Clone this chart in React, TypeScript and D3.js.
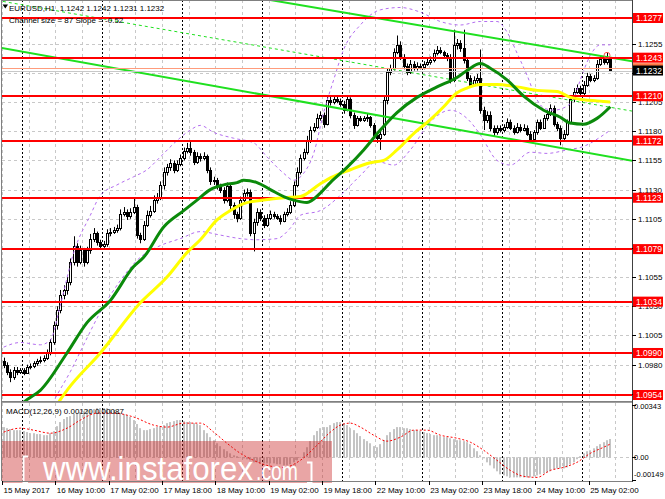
import React, { useEffect, useRef } from "react";
import * as d3 from "d3";

const W = 665;
const H = 499;

// ---------- price data (H1 bars, 15 May 18:00 .. 25 May 08:00) ----------
const firstOpen = 1.0983;
const closes = [
  1.0980, 1.0974, 1.0969, 1.0975, 1.0974, 1.0975, 1.0973, 1.0978, 1.0979, 1.0981,
  1.0983, 1.0984, 1.0986, 1.0990, 1.0999, 1.1014, 1.1027, 1.1040, 1.1044, 1.1051,
  1.1068, 1.1082, 1.1068, 1.1078, 1.1068, 1.1078, 1.1088, 1.1093, 1.1085, 1.1082,
  1.1083, 1.1093, 1.1094, 1.1095, 1.1097, 1.1109, 1.1111, 1.1107, 1.1111, 1.1115,
  1.1091, 1.1088, 1.1100, 1.1108, 1.1112, 1.1121, 1.1124, 1.1134, 1.1145, 1.1149,
  1.1153, 1.1147, 1.1152, 1.1157, 1.1163, 1.1166, 1.1162, 1.1154, 1.1159, 1.1157,
  1.1159, 1.1147, 1.1137, 1.1138, 1.1133, 1.1130, 1.1121, 1.1133, 1.1117, 1.1109,
  1.1106, 1.1121, 1.1127, 1.1128, 1.1093, 1.1102, 1.1111, 1.1106, 1.1100, 1.1106,
  1.1109, 1.1107, 1.1106, 1.1103, 1.1109, 1.1111, 1.1117, 1.1134, 1.1145, 1.1157,
  1.1162, 1.1172, 1.1181, 1.1184, 1.1191, 1.1194, 1.1186, 1.1207, 1.1205, 1.1208,
  1.1206, 1.1203, 1.1198, 1.1208, 1.1194, 1.1185, 1.1191, 1.1190, 1.1191, 1.1192,
  1.1185, 1.1177, 1.1174, 1.1178, 1.1207, 1.1231, 1.1234, 1.1248, 1.1254, 1.1244,
  1.1236, 1.1231, 1.1238, 1.1234, 1.1236, 1.1235, 1.1238, 1.1239, 1.1241, 1.1247,
  1.1250, 1.1248, 1.1245, 1.1243, 1.1224, 1.1254, 1.1256, 1.1251, 1.1241, 1.1226,
  1.1220, 1.1224, 1.1226, 1.1198, 1.1190, 1.1194, 1.1183, 1.1179, 1.1183, 1.1181,
  1.1184, 1.1188, 1.1183, 1.1179, 1.1184, 1.1181, 1.1183, 1.1178, 1.1173, 1.1179,
  1.1188, 1.1183, 1.1191, 1.1195, 1.1200, 1.1186, 1.1183, 1.1174, 1.1178, 1.1188,
  1.1208, 1.1214, 1.1217, 1.1213, 1.1220, 1.1227, 1.1224, 1.1226, 1.1238, 1.1242,
  1.1239, 1.1242, 1.1232,
];
const highs = [
  1.0986, 1.0982, 1.0976, 1.0978, 1.0978, 1.0977, 1.0977, 1.0980, 1.0981, 1.0983,
  1.0985, 1.0987, 1.0988, 1.0993, 1.1002, 1.1017, 1.1030, 1.1044, 1.1048, 1.1055,
  1.1071, 1.1090, 1.1084, 1.1082, 1.1080, 1.1081, 1.1092, 1.1097, 1.1094, 1.1087,
  1.1086, 1.1096, 1.1097, 1.1098, 1.1100, 1.1113, 1.1115, 1.1113, 1.1114, 1.1122,
  1.1117, 1.1093, 1.1103, 1.1112, 1.1116, 1.1125, 1.1127, 1.1137, 1.1149, 1.1152,
  1.1156, 1.1155, 1.1155, 1.1160, 1.1166, 1.1170, 1.1171, 1.1164, 1.1162, 1.1161,
  1.1162, 1.1160, 1.1149, 1.1141, 1.1140, 1.1135, 1.1132, 1.1136, 1.1135, 1.1119,
  1.1111, 1.1124, 1.1130, 1.1131, 1.1130, 1.1105, 1.1114, 1.1113, 1.1108, 1.1109,
  1.1112, 1.1111, 1.1109, 1.1108, 1.1111, 1.1114, 1.1120, 1.1137, 1.1149, 1.1160,
  1.1165, 1.1176, 1.1184, 1.1187, 1.1195, 1.1197, 1.1196, 1.1210, 1.1210, 1.1211,
  1.1210, 1.1208, 1.1206, 1.1211, 1.1209, 1.1196, 1.1193, 1.1193, 1.1193, 1.1195,
  1.1193, 1.1187, 1.1179, 1.1181, 1.1210, 1.1234, 1.1237, 1.1251, 1.1262, 1.1257,
  1.1246, 1.1238, 1.1241, 1.1240, 1.1239, 1.1238, 1.1240, 1.1242, 1.1244, 1.1250,
  1.1253, 1.1252, 1.1249, 1.1247, 1.1246, 1.1267, 1.1259, 1.1258, 1.1267, 1.1243,
  1.1228, 1.1227, 1.1229, 1.1250, 1.1201, 1.1197, 1.1197, 1.1185, 1.1185, 1.1185,
  1.1186, 1.1191, 1.1190, 1.1185, 1.1187, 1.1186, 1.1186, 1.1185, 1.1180, 1.1181,
  1.1190, 1.1190, 1.1194, 1.1198, 1.1203, 1.1202, 1.1188, 1.1185, 1.1181, 1.1190,
  1.1211, 1.1217, 1.1220, 1.1219, 1.1223, 1.1230, 1.1229, 1.1228, 1.1241, 1.1245,
  1.1244, 1.1247, 1.1242,
];
const lows = [
  1.0977, 1.0971, 1.0965, 1.0967, 1.0971, 1.0972, 1.0971, 1.0972, 1.0976, 1.0977,
  1.0979, 1.0981, 1.0982, 1.0984, 1.0988, 1.0997, 1.1010, 1.1024, 1.1036, 1.1040,
  1.1048, 1.1065, 1.1064, 1.1066, 1.1064, 1.1066, 1.1075, 1.1085, 1.1082, 1.1079,
  1.1080, 1.1081, 1.1090, 1.1092, 1.1093, 1.1095, 1.1107, 1.1104, 1.1105, 1.1109,
  1.1088, 1.1084, 1.1086, 1.1098, 1.1106, 1.1110, 1.1118, 1.1121, 1.1130, 1.1142,
  1.1146, 1.1144, 1.1145, 1.1150, 1.1155, 1.1161, 1.1159, 1.1151, 1.1152, 1.1154,
  1.1155, 1.1144, 1.1134, 1.1134, 1.1130, 1.1127, 1.1118, 1.1119, 1.1113, 1.1105,
  1.1102, 1.1104, 1.1119, 1.1124, 1.1090, 1.1077, 1.1099, 1.1103, 1.1097, 1.1098,
  1.1104, 1.1105, 1.1104, 1.1100, 1.1102, 1.1107, 1.1109, 1.1115, 1.1132, 1.1143,
  1.1155, 1.1160, 1.1170, 1.1179, 1.1182, 1.1189, 1.1183, 1.1185, 1.1202, 1.1203,
  1.1204, 1.1201, 1.1195, 1.1197, 1.1191, 1.1182, 1.1184, 1.1188, 1.1188, 1.1188,
  1.1183, 1.1174, 1.1170, 1.1164, 1.1176, 1.1203, 1.1228, 1.1232, 1.1246, 1.1241,
  1.1233, 1.1228, 1.1229, 1.1232, 1.1232, 1.1233, 1.1233, 1.1236, 1.1237, 1.1239,
  1.1245, 1.1246, 1.1243, 1.1240, 1.1221, 1.1222, 1.1250, 1.1248, 1.1238, 1.1223,
  1.1217, 1.1218, 1.1221, 1.1195, 1.1181, 1.1187, 1.1180, 1.1176, 1.1177, 1.1179,
  1.1179, 1.1182, 1.1181, 1.1177, 1.1178, 1.1179, 1.1180, 1.1176, 1.1170, 1.1171,
  1.1177, 1.1181, 1.1182, 1.1189, 1.1193, 1.1184, 1.1180, 1.1168, 1.1172, 1.1176,
  1.1186, 1.1205, 1.1212, 1.1211, 1.1211, 1.1218, 1.1222, 1.1222, 1.1224, 1.1236,
  1.1237, 1.1237, 1.1231,
];

// ---------- MACD(12,26,9) ----------
const macdHist = [
  0.00198, 0.00191, 0.00185, 0.00178, 0.00178, 0.00178, 0.00172, 0.00165, 0.00158, 0.00158,
  0.00152, 0.00152, 0.00145, 0.00145, 0.00158, 0.00172, 0.00204, 0.00231, 0.00251, 0.00264,
  0.00270, 0.00284, 0.00290, 0.00297, 0.00303, 0.00310, 0.00310, 0.00317, 0.00323, 0.00323,
  0.00323, 0.00323, 0.00317, 0.00310, 0.00297, 0.00290, 0.00284, 0.00277, 0.00264, 0.00244,
  0.00218, 0.00191, 0.00178, 0.00178, 0.00185, 0.00191, 0.00198, 0.00204, 0.00211, 0.00224,
  0.00231, 0.00237, 0.00244, 0.00244, 0.00237, 0.00231, 0.00231, 0.00224, 0.00218, 0.00211,
  0.00178, 0.00158, 0.00132, 0.00112, 0.00092, 0.00073, 0.00053, 0.00040, 0.00026, 0.00013,
  0.00007, 0.00002, -0.00007, -0.00013, -0.00020, -0.00033, -0.00033, -0.00040, -0.00040, -0.00040,
  -0.00040, -0.00040, -0.00046, -0.00046, -0.00053, -0.00053, -0.00046, -0.00033, -0.00020, 0.00002,
  0.00033, 0.00066, 0.00106, 0.00145, 0.00172, 0.00191, 0.00198, 0.00198, 0.00211, 0.00224,
  0.00231, 0.00231, 0.00224, 0.00211, 0.00191, 0.00178, 0.00158, 0.00139, 0.00119, 0.00106,
  0.00092, 0.00073, 0.00066, 0.00086, 0.00112, 0.00145, 0.00165, 0.00185, 0.00198, 0.00198,
  0.00191, 0.00191, 0.00185, 0.00178, 0.00178, 0.00172, 0.00165, 0.00158, 0.00152, 0.00145,
  0.00145, 0.00139, 0.00132, 0.00132, 0.00125, 0.00119, 0.00112, 0.00112, 0.00106, 0.00099,
  0.00086, 0.00059, 0.00040, 0.00013, -0.00007, -0.00033, -0.00053, -0.00073, -0.00092, -0.00112,
  -0.00119, -0.00125, -0.00132, -0.00132, -0.00132, -0.00132, -0.00132, -0.00132, -0.00132, -0.00125,
  -0.00119, -0.00112, -0.00106, -0.00099, -0.00092, -0.00079, -0.00073, -0.00073, -0.00073, -0.00066,
  -0.00046, -0.00033, -0.00013, 0.00007, 0.00026, 0.00040, 0.00046, 0.00059, 0.00073, 0.00086,
  0.00099, 0.00112, 0.00120,
];
const signalIdx = [0, 5, 9, 14, 19, 23, 28, 33, 39, 45, 49, 54, 59, 63, 67, 71, 75, 79, 84, 89, 94, 98, 101, 104, 107, 111, 115, 119, 123, 127, 131, 136, 140, 144, 148, 152, 156, 160, 164, 168, 172, 176, 180, 182];
const signalVals = [0.00165, 0.00191, 0.00178, 0.00158, 0.00191, 0.00244, 0.00290, 0.00290, 0.00264, 0.00211, 0.00198, 0.00224, 0.00224, 0.00165, 0.00092, 0.00026, -0.00020, -0.00053, -0.00066, -0.00020, 0.00079, 0.00165, 0.00211, 0.00224, 0.00198, 0.00145, 0.00106, 0.00132, 0.00178, 0.00178, 0.00145, 0.00125, 0.00099, 0.00046, -0.00020, -0.00086, -0.00125, -0.00132, -0.00086, -0.00066, -0.00033, 0.00026, 0.00066, 0.00087];

// ---------- moving averages (read at bar indices) ----------
const greenIdx = [3, 7, 11, 19, 25, 32, 39, 42, 48, 54, 58, 62, 66, 70, 72, 76, 80, 84, 87, 91, 95, 98, 103, 108, 113, 118, 124, 130, 136, 139, 143, 146, 151, 156, 162, 167, 170, 174, 178, 182];
const greenVals = [1.0941, 1.0950, 1.0958, 1.0990, 1.1016, 1.1035, 1.1064, 1.1072, 1.1098, 1.1112, 1.1121, 1.1130, 1.1134, 1.1136, 1.1138, 1.1136, 1.1130, 1.1124, 1.1121, 1.1119, 1.1127, 1.1136, 1.1149, 1.1164, 1.1181, 1.1196, 1.1209, 1.1218, 1.1226, 1.1232, 1.1238, 1.1234, 1.1224, 1.1210, 1.1198, 1.1192, 1.1187, 1.1186, 1.1191, 1.1201];
const yellowIdx = [14, 17, 19, 29, 41, 49, 55, 59, 64, 68, 72, 78, 84, 89, 95, 98, 104, 110, 114, 118, 123, 128, 132, 136, 139, 143, 148, 154, 160, 166, 170, 174, 178, 182];
const yellowVals = [1.0935, 1.0950, 1.0958, 1.0990, 1.1033, 1.1055, 1.1076, 1.1087, 1.1104, 1.1112, 1.1118, 1.1121, 1.1123, 1.1124, 1.1135, 1.1140, 1.1147, 1.1153, 1.1155, 1.1164, 1.1178, 1.1190, 1.1201, 1.1213, 1.1217, 1.1220, 1.1220, 1.1218, 1.1215, 1.1214, 1.1209, 1.1207, 1.1206, 1.1205];

// ---------- bands (violet dashed) ----------
const upperIdx = [0, 5, 11, 14, 17, 21, 26, 29, 34, 39, 43, 47, 52, 56, 59, 63, 69, 75, 79, 84, 87, 90, 93, 96, 99, 102, 107, 113, 119, 125, 131, 137, 143, 148, 151, 154, 157, 160, 162, 165, 168, 171, 173, 176, 179, 182];
const upperVals = [1.0995, 1.0999, 1.0997, 1.1001, 1.1031, 1.1076, 1.1108, 1.1125, 1.1134, 1.1141, 1.1147, 1.1158, 1.1172, 1.1181, 1.1185, 1.1179, 1.1174, 1.1170, 1.1158, 1.1144, 1.1138, 1.1144, 1.1161, 1.1196, 1.1224, 1.1250, 1.1271, 1.1284, 1.1286, 1.1282, 1.1274, 1.1271, 1.1274, 1.1274, 1.1265, 1.1247, 1.1228, 1.1207, 1.1200, 1.1198, 1.1200, 1.1208, 1.1224, 1.1245, 1.1254, 1.1254];
const lowerIdx = [12, 16, 20, 24, 29, 35, 41, 47, 53, 59, 65, 71, 76, 82, 86, 89, 95, 101, 107, 112, 117, 122, 128, 134, 139, 143, 148, 152, 158, 163, 169, 174, 179, 182];
const lowerVals = [1.0933, 1.0954, 1.0974, 1.0997, 1.1025, 1.1052, 1.1072, 1.1082, 1.1088, 1.1094, 1.1091, 1.1088, 1.1087, 1.1088, 1.1097, 1.1108, 1.1112, 1.1125, 1.1142, 1.1154, 1.1151, 1.1164, 1.1188, 1.1198, 1.1191, 1.1177, 1.1155, 1.1151, 1.1162, 1.1161, 1.1164, 1.1167, 1.1175, 1.1181];

// ---------- regression channel (anchor bar index / price) ----------
const chanLowerIdx = [0, 182];
const chanLowerVals = [1.1251, 1.1158];
const chanUpperIdx = [118, 182];
const chanUpperVals = [1.1274, 1.1243];

// ---------- levels & axes ----------
const levels = [1.1277, 1.1243, 1.1210, 1.1172, 1.1123, 1.1079, 1.1034, 1.0990, 1.0954];
const secondaryLevel = 1.1234;
const bidPrice = 1.1232;
const priceTicks = ["1.0955", "1.0980", "1.1005", "1.1030", "1.1055", "1.1080", "1.1105", "1.1130", "1.1155", "1.1180", "1.1205", "1.1230", "1.1255"];
const macdTicks = ["0.00343", "0.00", "-0.00149"];
const macdTickVals = [0.00343, 0, -0.00149];
const xLabels = ["15 May 2017", "16 May 10:00", "17 May 02:00", "17 May 18:00", "18 May 10:00", "19 May 02:00", "19 May 18:00", "22 May 10:00", "23 May 02:00", "23 May 18:00", "24 May 10:00", "25 May 02:00"];
const xLabelIdx = [0, 16, 32, 48, 64, 80, 96, 112, 128, 144, 160, 176];
const daySepIdx = [6, 30, 54, 78, 102, 126, 150, 174];
const alertIdx = 181;
const alertPrice = 1.1245;

export default function App() {
  const ref = useRef<SVGSVGElement | null>(null);

  useEffect(() => {
    const node = ref.current;
    if (!node) return;
    const svg = d3.select(node);
    svg.selectAll("*").remove();

    const FONT = "'Liberation Sans', Arial, sans-serif";
    const L = 2, R = 632, MAIN_B = 401, MACD_T = 403, MACD_B = 481;
    const x = d3.scaleLinear().domain([0, 189]).range([L, R]);
    const cx = (i: number) => x(i + 0.5);
    const y = d3.scaleLinear().domain([1.0954, 1.1277]).range([395, 18]);
    const ym = d3.scaleLinear().domain([-0.00149, 0.00343]).range([480, 405]);
    const snap = (v: number) => Math.round(v) + 0.5;

    svg.append("rect").attr("width", W).attr("height", H).attr("fill", "#ffffff");

    const defs = svg.append("defs");
    defs.append("clipPath").attr("id", "clipMain").append("rect")
      .attr("x", L).attr("y", 0).attr("width", R - L).attr("height", MAIN_B);
    defs.append("clipPath").attr("id", "clipMacd").append("rect")
      .attr("x", L).attr("y", MACD_T).attr("width", R - L).attr("height", MACD_B - MACD_T);

    // grid
    const grid = svg.append("g").attr("stroke", "#c8c8c8").attr("stroke-width", 1).attr("stroke-dasharray", "3,3");
    priceTicks.forEach((t) => {
      const yy = snap(y(+t));
      grid.append("line").attr("x1", L).attr("x2", R).attr("y1", yy).attr("y2", yy);
    });
    d3.range(0, 189, 8).forEach((i) => {
      const xx = snap(x(i));
      grid.append("line").attr("x1", xx).attr("x2", xx).attr("y1", 0).attr("y2", MAIN_B);
      grid.append("line").attr("x1", xx).attr("x2", xx).attr("y1", MACD_T).attr("y2", MACD_B);
    });
    const zy = snap(ym(0));
    grid.append("line").attr("x1", L).attr("x2", R).attr("y1", zy).attr("y2", zy);

    // day separators
    const sep = svg.append("g").attr("stroke", "#000").attr("stroke-width", 1).attr("stroke-dasharray", "2,2");
    daySepIdx.forEach((i) => {
      const xx = snap(x(i));
      sep.append("line").attr("x1", xx).attr("x2", xx).attr("y1", 0).attr("y2", MACD_B);
    });

    // ---------- main panel ----------
    const main = svg.append("g").attr("clip-path", "url(#clipMain)");
    const bars = closes.map((c, i) => ({ i, o: i === 0 ? firstOpen : closes[i - 1], c, h: highs[i], l: lows[i] }));

    main.append("g").selectAll("line").data(bars).join("line")
      .attr("x1", (d) => snap(cx(d.i))).attr("x2", (d) => snap(cx(d.i)))
      .attr("y1", (d) => y(d.h)).attr("y2", (d) => y(d.l))
      .attr("stroke", "#000").attr("stroke-width", 1);
    main.append("g").selectAll("rect").data(bars).join("rect")
      .attr("x", (d) => Math.round(cx(d.i)) - 0.5)
      .attr("width", 2)
      .attr("y", (d) => Math.round(y(Math.max(d.o, d.c))) + 0.5)
      .attr("height", (d) => Math.max(1, Math.round(y(Math.min(d.o, d.c))) - Math.round(y(Math.max(d.o, d.c)))))
      .attr("fill", (d) => (d.c >= d.o ? "#ffffff" : "#000000"))
      .attr("stroke", "#000").attr("stroke-width", 1);

    const lineGen = d3.line<[number, number]>()
      .x((d) => cx(d[0])).y((d) => y(d[1])).curve(d3.curveMonotoneX);
    const pairs = (idx: number[], vals: number[]) => idx.map((i, k) => [i, vals[k]] as [number, number]);

    // bands
    [pairs(upperIdx, upperVals), pairs(lowerIdx, lowerVals)].forEach((pts) => {
      main.append("path").attr("d", lineGen(pts) as string)
        .attr("fill", "none").attr("stroke", "#b46ef0").attr("stroke-width", 1).attr("stroke-dasharray", "3,3");
    });

    // channel
    const chLow = d3.scaleLinear().domain(chanLowerIdx).range(chanLowerVals);
    const chUp = d3.scaleLinear().domain(chanUpperIdx).range(chanUpperVals);
    const chX = [-2, 190];
    const straight = d3.line<[number, number]>().x((d) => cx(d[0])).y((d) => y(d[1]));
    main.append("path").attr("d", straight(chX.map((i) => [i, chLow(i)] as [number, number])) as string)
      .attr("stroke", "#1fe01f").attr("stroke-width", 2).attr("fill", "none");
    main.append("path").attr("d", straight(chX.map((i) => [i, chUp(i)] as [number, number])) as string)
      .attr("stroke", "#1fe01f").attr("stroke-width", 2).attr("fill", "none");
    main.append("path").attr("d", straight(chX.map((i) => [i, (chUp(i) + chLow(i)) / 2] as [number, number])) as string)
      .attr("stroke", "#1fe01f").attr("stroke-width", 1).attr("stroke-dasharray", "3,3").attr("fill", "none");

    // horizontal levels
    levels.forEach((lv) => {
      const yy = Math.round(y(lv));
      main.append("line").attr("x1", L).attr("x2", R).attr("y1", yy).attr("y2", yy)
        .attr("stroke", "#ff0000").attr("stroke-width", 2);
    });
    const sy = snap(y(secondaryLevel));
    main.append("line").attr("x1", L).attr("x2", R).attr("y1", sy).attr("y2", sy)
      .attr("stroke", "#ff9c7c").attr("stroke-width", 1);
    const by = snap(y(bidPrice));
    main.append("line").attr("x1", L).attr("x2", R).attr("y1", by).attr("y2", by)
      .attr("stroke", "#c8c8c8").attr("stroke-width", 1);

    // moving averages
    main.append("path").attr("d", lineGen(pairs(yellowIdx, yellowVals)) as string)
      .attr("fill", "none").attr("stroke", "#ffff00").attr("stroke-width", 3);
    main.append("path").attr("d", lineGen(pairs(greenIdx, greenVals)) as string)
      .attr("fill", "none").attr("stroke", "#0b8a0b").attr("stroke-width", 3);

    // alert marker
    main.append("circle").attr("cx", cx(alertIdx)).attr("cy", y(alertPrice)).attr("r", 3)
      .attr("fill", "none").attr("stroke", "#ff5050").attr("stroke-width", 1);

    // ---------- MACD panel ----------
    const macd = svg.append("g").attr("clip-path", "url(#clipMacd)");
    macd.append("g").selectAll("rect").data(macdHist.map((v, i) => ({ v, i }))).join("rect")
      .attr("x", (d) => Math.round(cx(d.i)) - 1)
      .attr("width", 2)
      .attr("y", (d) => Math.min(ym(0), ym(d.v)))
      .attr("height", (d) => Math.max(0.5, Math.abs(ym(d.v) - ym(0))))
      .attr("fill", "#c4c4c4");
    const sigGen = d3.line<[number, number]>().x((d) => cx(d[0])).y((d) => ym(d[1])).curve(d3.curveMonotoneX);
    macd.append("path").attr("d", sigGen(pairs(signalIdx, signalVals)) as string)
      .attr("fill", "none").attr("stroke", "#ff0000").attr("stroke-width", 1).attr("stroke-dasharray", "2,2");

    // ---------- watermark ----------
    const wm = svg.append("g");
    wm.append("rect").attr("x", L).attr("y", 441).attr("width", 330).attr("height", 42)
      .attr("fill", "rgb(200,30,30)").attr("fill-opacity", 0.4);
    wm.append("text").attr("x", 43).attr("y", 480).attr("fill", "#ffffff")
      .attr("font-family", FONT).attr("font-size", 33)
      .attr("textLength", 210).attr("lengthAdjust", "spacingAndGlyphs")
      .text("www.instaforex");
    wm.append("text").attr("x", 256).attr("y", 480).attr("fill", "#ffffff")
      .attr("font-family", FONT).attr("font-size", 25)
      .attr("textLength", 42).attr("lengthAdjust", "spacingAndGlyphs")
      .text(".com");
    wm.append("path").attr("d", "M28,456.5H23.5V482.5H28").attr("fill", "none").attr("stroke", "#fff").attr("stroke-width", 2);
    wm.append("path").attr("d", "M307,462.5H311.5V482.5H307").attr("fill", "none").attr("stroke", "#fff").attr("stroke-width", 2);

    // ---------- frames ----------
    const frame = svg.append("g").attr("stroke-width", 1);
    frame.append("line").attr("x1", 1.5).attr("x2", 1.5).attr("y1", 0).attr("y2", MACD_B).attr("stroke", "#808080");
    frame.append("line").attr("x1", R + 0.5).attr("x2", R + 0.5).attr("y1", 0).attr("y2", MACD_B + 1).attr("stroke", "#404040");
    frame.append("line").attr("x1", L).attr("x2", R).attr("y1", 0.5).attr("y2", 0.5).attr("stroke", "#808080");
    frame.append("line").attr("x1", L).attr("x2", R).attr("y1", MAIN_B + 0.5).attr("y2", MAIN_B + 0.5).attr("stroke", "#808080");
    frame.append("line").attr("x1", L).attr("x2", R).attr("y1", MACD_T - 0.5).attr("y2", MACD_T - 0.5).attr("stroke", "#a0a0a0");
    frame.append("line").attr("x1", L).attr("x2", R).attr("y1", MACD_B + 0.5).attr("y2", MACD_B + 0.5).attr("stroke", "#808080");

    // ---------- right axis ----------
    const ax = svg.append("g").attr("font-family", FONT).attr("font-size", 8);
    const labelYs = [...levels, secondaryLevel, bidPrice].map((v) => y(v));
    priceTicks.forEach((t) => {
      const yy = y(+t);
      ax.append("line").attr("x1", R).attr("x2", R + 4).attr("y1", snap(yy)).attr("y2", snap(yy)).attr("stroke", "#000");
      // a tick label fully covered by a level label is not visible in the terminal
      if (labelYs.some((ly) => Math.abs(ly - yy) < 3)) return;
      ax.append("text").attr("x", R + 6).attr("y", yy + 3).attr("fill", "#000").text(t);
    });
    levels.forEach((lv) => {
      const yy = y(lv);
      ax.append("rect").attr("x", R + 1).attr("y", yy - 5).attr("width", 30).attr("height", 10).attr("fill", "#ff0000");
      ax.append("text").attr("x", R + 4).attr("y", yy + 3).attr("fill", "#fff").attr("font-size", 8.5).text(lv.toFixed(4));
    });
    const sY = y(secondaryLevel);
    ax.append("rect").attr("x", R + 1).attr("y", sY - 5).attr("width", 30).attr("height", 10).attr("fill", "#ff7744");
    const bY = y(bidPrice);
    ax.append("rect").attr("x", R + 1).attr("y", bY - 5).attr("width", 30).attr("height", 10).attr("fill", "#000");
    ax.append("text").attr("x", R + 4).attr("y", bY + 3).attr("fill", "#fff").attr("font-size", 8.5).text(bidPrice.toFixed(4));

    const macdTextY = [409, 460, 477];
    macdTicks.forEach((t, k) => {
      const yy = ym(macdTickVals[k]);
      ax.append("line").attr("x1", R).attr("x2", R + 4).attr("y1", snap(yy)).attr("y2", snap(yy)).attr("stroke", "#000");
      ax.append("text").attr("x", R + 2).attr("y", macdTextY[k]).attr("fill", "#000").attr("font-size", 7.5).text(t);
    });

    // ---------- x axis ----------
    const xa = svg.append("g").attr("font-family", FONT).attr("font-size", 8);
    xLabels.forEach((lab, k) => {
      const xx = x(xLabelIdx[k]);
      xa.append("line").attr("x1", snap(xx)).attr("x2", snap(xx)).attr("y1", MACD_B).attr("y2", MACD_B + 4).attr("stroke", "#000");
      xa.append("text").attr("x", xx + 1.5).attr("y", 493).attr("fill", "#000").text(lab);
    });

    // ---------- header ----------
    const hd = svg.append("g").attr("font-family", FONT).attr("font-size", 8).attr("fill", "#000");
    hd.append("path").attr("d", "M2.5,4.5L8,4.5L5.25,8.5Z").attr("fill", "#000");
    hd.append("text").attr("x", 9).attr("y", 10.5).style("white-space", "pre")
      .text("EURUSD,H1  1.1242 1.1242 1.1231 1.1232");
    hd.append("text").attr("x", 9).attr("y", 22.5).style("white-space", "pre")
      .text("Channel size = 87 Slope = -0.52");
    hd.append("text").attr("x", 6).attr("y", 414).style("white-space", "pre")
      .text("MACD(12,26,9) 0.00120 0.00087");
  }, []);

  return (
    <svg
      ref={ref}
      width={W}
      height={H}
      style={{ position: "absolute", left: 0, top: 0, display: "block" }}
    />
  );
}
